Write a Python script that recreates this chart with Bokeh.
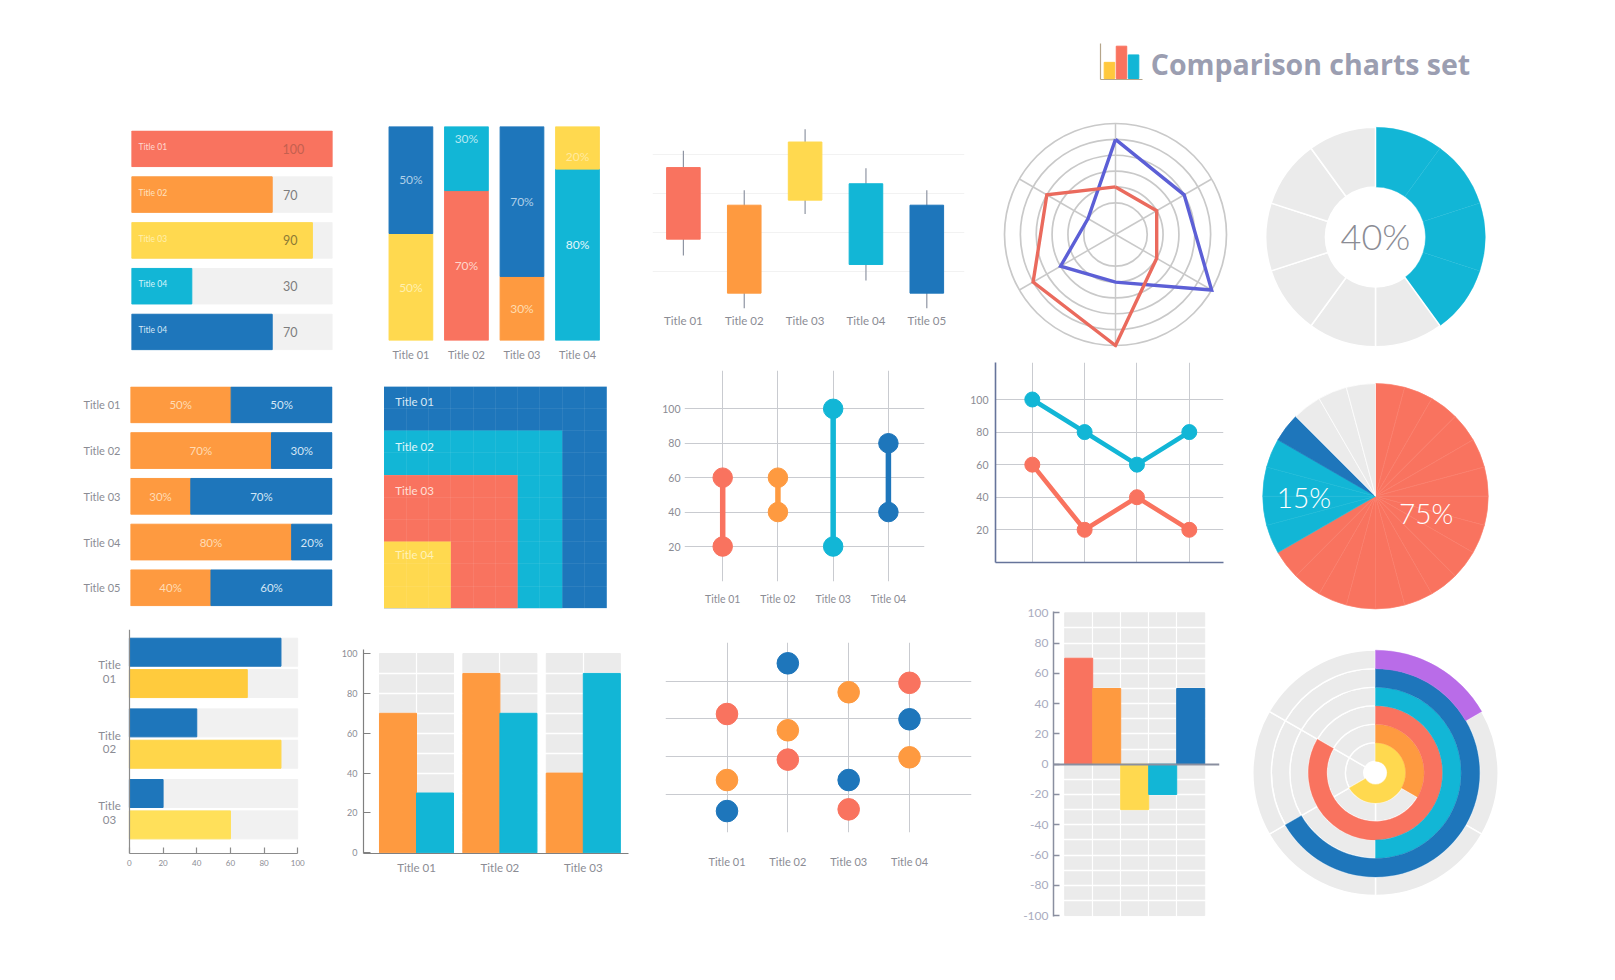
import math
from bokeh.plotting import figure
from bokeh.core.properties import value
from bokeh.models import Range1d, FixedTicker, ColumnDataSource
from bokeh.embed import file_html
from bokeh.resources import INLINE

# ---------- data ----------
titles4 = ["Title 01", "Title 02", "Title 03", "Title 04"]
titles5 = ["Title 01", "Title 02", "Title 03", "Title 04", "Title 05"]
hbar_labels = ["Title 01", "Title 02", "Title 03", "Title 04", "Title 04"]
hbar_values = [100, 70, 90, 30, 70]

stack_bottom = [50, 70, 30, 80]
stack_top = [50, 30, 70, 20]

candle_high = [81.9, 61.7, 93.0, 73.0, 61.7]
candle_top = [73.3, 54.0, 86.4, 65.0, 54.0]
candle_bottom = [36.6, 8.9, 56.6, 23.6, 8.9]
candle_low = [28.2, 1.2, 49.5, 15.4, 1.2]

radar_blue = [6, 5, 7, 3, 4, 2]
radar_red = [3, 3, 3, 7, 6, 5]

donut_segments = 10
donut_filled = 4
donut_label = "40%"

split_orange = [50, 70, 30, 80, 40]
split_blue = [50, 30, 70, 20, 60]

nested_values = [100, 80, 60, 30]

range_low = [20, 40, 20, 40]
range_high = [60, 60, 100, 80]

line_cyan = [100, 80, 60, 80]
line_coral = [60, 20, 40, 20]

pie_slices = [16, 4, 1, 3]     # count of 15-degree sectors
pie_labels = ["75%", "15%"]

pair_blue = [90, 40, 20]
pair_yellow = [70, 90, 60]
pair_labels = ["Title\n01", "Title\n02", "Title\n03"]

group_orange = [70, 90, 40]
group_cyan = [30, 70, 90]
titles3 = ["Title 01", "Title 02", "Title 03"]

dots_coral = [62.6, 38.5, 12.2, 79.1]
dots_orange = [27.7, 54.0, 74.1, 39.7]
dots_blue = [11.3, 89.4, 27.7, 59.8]

signed_values = [70, 50, -30, -20, 50]

ring_degrees = [240, 120, 300, 180, 240, 60]

icon_values = [50, 100, 73]
heading = "Comparison charts set"

# ---------- style ----------
CORAL = "#f9735f"
ORANGE = "#fe9a40"
YELLOW = "#ffd94f"
CYAN = "#12b6d6"
BLUE = "#1e76bb"
PURPLE = "#b96ce8"
GREY = "#ebebeb"
PALE = "#f1f1f1"
TXT = "#8b8c94"
FONT = "Lato"
LIGHT = "Lato Light"
figs = []


def cal(f0, f1, va, pa, vb, pb):
    k = (vb - va) / (pb - pa)
    return Range1d(va + (f0 - pa) * k, va + (f1 - pa) * k)


def panel(x0, y0, x1, y1, xc, yc, ml=2, mr=2, mt=2, mb=2):
    p = figure(width=x1 - x0 + ml + mr, height=y1 - y0 + mt + mb,
               x_range=cal(x0, x1, *xc), y_range=cal(y1, y0, *yc),
               toolbar_location=None, output_backend="svg",
               min_border_left=ml, min_border_right=mr, min_border_top=mt, min_border_bottom=mb,
               background_fill_color=None, border_fill_color=None, outline_line_color=None,
               styles={"position": "absolute", "left": f"{x0 - ml}px", "top": f"{y0 - mt - 1}px"})
    p.grid.visible = False
    p.axis.visible = False
    figs.append(p)
    return p


def ax(a, ticks, labels, size="11.5px", color=TXT, standoff=6, line=None, lw=1.2, tick_in=0):
    a.visible = True
    a.ticker = FixedTicker(ticks=list(ticks))
    a.major_label_overrides = {t: l for t, l in zip(ticks, labels)}
    a.major_label_text_font = FONT
    a.major_label_text_font_size = size
    a.major_label_text_color = color
    a.major_label_standoff = standoff
    a.axis_line_color = line
    a.axis_line_width = lw
    a.major_tick_line_color = line if tick_in else None
    a.major_tick_line_width = lw
    a.major_tick_in = tick_in
    a.major_tick_out = 0
    a.minor_tick_line_color = None


def txt(p, x, y, s, color="#ffffff", size="12px", align="center", font=FONT, lh=1.2):
    p.text(x=x, y=y, text=s, text_color=color, text_font=value(font), text_font_size=value(size),
           text_align=align, text_baseline="middle", text_line_height=lh)


# 1. simple horizontal bars
ys = list(range(1, 6))
p = panel(131, 131, 332, 351, (0, 131, 100, 332), (1, 149.3, 5, 332.5))
p.hbar(y=ys, left=0, right=[100] * 5, height=0.775, color=PALE)
p.hbar(y=ys, left=0, right=hbar_values, height=0.775,
       color=[CORAL, ORANGE, YELLOW, CYAN, BLUE])
txt(p, [3.5] * 5, [y - 0.04 for y in ys], hbar_labels,
    ["#ffd8d2", "#ffe2c0", "#fff0b0", "#d8f4fa", "#d6e8f6"], "8.5px", "left")
txt(p, [80.5, 79, 79, 79, 79], ys, [str(v) for v in hbar_values],
    ["#c4604f", "#7d7d7d", "#8c7a35", "#7d7d7d", "#7d7d7d"], "12.5px")

# 2. stacked columns
xs = list(range(1, 5))
p = panel(383, 127, 605, 341, (1, 410.4, 4, 577), (0, 341.3, 100, 126.7), mb=30)
p.vbar(x=xs, bottom=0, top=stack_bottom, width=0.787, color=[YELLOW, CORAL, ORANGE, CYAN])
p.vbar(x=xs, bottom=stack_bottom, top=[100] * 4, width=0.787, color=[BLUE, CYAN, BLUE, YELLOW])
txt(p, xs, [25, 35, 15, 45], [f"{v}%" for v in stack_bottom], ["#fff0b0", "#ffd6cc", "#ffdcb0", "#e2f7fb"], "12px")
txt(p, xs, [75, 94.3, 65, 85.8], [f"{v}%" for v in stack_top], ["#b0d0e8", "#b5e8f3", "#b0d0e8", "#ffeaa0"], "12px")
ax(p.xaxis[0], xs, titles4, size="11px", standoff=7)

# 3. candlesticks
xs5 = list(range(1, 6))
p = panel(652, 125, 964, 311, (1, 682.9, 5, 926.3), (20, 272, 80, 155), mb=22)
p.hspan(y=[20, 40, 60, 80], line_color="#f2f2f2", line_width=1.2)
p.segment(x0=xs5, x1=xs5, y0=candle_low, y1=candle_high, line_color="#8f95a3", line_width=1.2)
p.vbar(x=xs5, bottom=candle_bottom, top=candle_top, width=0.552,
       color=[CORAL, ORANGE, YELLOW, CYAN, BLUE])
ax(p.xaxis[0], xs5, titles5, size="11.5px", standoff=3)

# 4. radar
R = 111 / 7
p = panel(1002, 122, 1228, 348, (0, 1115, 1, 1115 + R), (0, 235, 1, 235 - R))
spokes = [90 - 60 * i for i in range(6)]
p.circle(x=[0] * 6, y=[0] * 6, radius=[2, 3, 4, 5, 6, 7], fill_color=None,
         line_color="#c9c9c9", line_width=1.7)
p.segment(x0=[0] * 6, y0=[0] * 6,
          x1=[7 * math.cos(math.radians(a)) for a in spokes],
          y1=[7 * math.sin(math.radians(a)) for a in spokes],
          line_color="#c9c9c9", line_width=1.5)
for vals, col in ((radar_blue, "#5c5fd6"), (radar_red, "#ea6a5d")):
    px = [v * math.cos(math.radians(a)) for v, a in zip(vals, spokes)]
    py = [v * math.sin(math.radians(a)) for v, a in zip(vals, spokes)]
    p.line(x=px + px[:1], y=py + py[:1], line_color=col, line_width=3.4, line_join="miter")


def sweep(start, span):
    return math.pi / 2 - math.radians(start), math.pi / 2 - math.radians(start + span)


# 5. donut
p = panel(1263, 125, 1487, 349, (0, 1375, 1, 1484.7), (0, 237.5, 1, 127.8))
step = 360 / donut_segments
st = [sweep(i * step, step) for i in range(donut_segments)]
fill = [i < donut_filled for i in range(donut_segments)]
src = ColumnDataSource(dict(a=[s[0] for s in st], b=[s[1] for s in st],
                            c=[CYAN if f else GREY for f in fill],
                            lc=["#1fbbd9" if f else "#ffffff" for f in fill],
                            lw=[0.4 if f else 1.5 for f in fill]))
p.annular_wedge(x=0, y=0, inner_radius=0.456, outer_radius=1, start_angle="a", end_angle="b",
                direction="clock", fill_color="c", line_color="lc", line_width="lw", source=src)
txt(p, [0], [0.01], [donut_label], TXT, "36px", font=LIGHT)

# 6. pie
p = panel(1260, 382, 1490, 612, (0, 1375, 1, 1487.7), (0, 496.7, 1, 384))
pie_colors = [c for c, n in zip([CORAL, CYAN, BLUE, GREY], pie_slices) for _ in range(n)]
pie_lines = [c for c, n in zip(["#fa7e6b", "#1fbbd9", BLUE, "#ffffff"], pie_slices) for _ in range(n)]
st = [sweep(i * 15, 15) for i in range(len(pie_colors))]
p.wedge(x=0, y=0, radius=1, start_angle=[s[0] for s in st], end_angle=[s[1] for s in st],
        direction="clock", fill_color=pie_colors, line_color=pie_lines, line_width=0.7)
txt(p, [0.45, -0.635], [-0.145, -0.005], pie_labels, "#ffffff", "28px", font=LIGHT)

# 7. radial bars
p = panel(1250, 648, 1500, 898, (0, 1375, 1, 1375 + 18.5), (0, 773.3, 1, 773.3 - 18.5))
for i in range(6):
    st = [sweep(k * 60, 60) for k in range(6)]
    p.annular_wedge(x=0, y=0, inner_radius=i + 0.63, outer_radius=i + 1.63,
                    start_angle=[s[0] for s in st], end_angle=[s[1] for s in st],
                    direction="clock", fill_color=GREY, line_color="#ffffff", line_width=1.4)
for i, (deg, col) in enumerate(zip(ring_degrees, [YELLOW, ORANGE, CORAL, CYAN, BLUE, PURPLE])):
    a, b = sweep(0, deg)
    p.annular_wedge(x=0, y=0, inner_radius=i + 0.63, outer_radius=i + 1.63, start_angle=a, end_angle=b,
                    direction="clock", fill_color=col, line_color=col, line_width=0.4)

# 8. split horizontal bars
p = panel(130, 387, 332, 607, (0, 129.8, 100, 331.5), (1, 405.3, 5, 588.3), ml=70)
p.hbar(y=ys, left=0, right=split_orange, height=0.78, color=ORANGE)
p.hbar(y=ys, left=split_orange, right=[100] * 5, height=0.78, color=BLUE)
txt(p, [v / 2 for v in split_orange], ys, [f"{v}%" for v in split_orange], "#ffdcb4", "11.5px")
txt(p, [o + v / 2 for o, v in zip(split_orange, split_blue)], ys,
    [f"{v}%" for v in split_blue], "#d4e6f5", "11.5px")
ax(p.yaxis[0], ys, titles5, size="11px", standoff=10)

# 9. nested squares
p = panel(383, 387, 607, 609, (0, 383.5, 100, 606.3), (0, 608.7, 100, 386.7))
p.quad(left=0, bottom=0, right=nested_values, top=nested_values,
       fill_color=[BLUE, CYAN, CORAL, YELLOW], line_color=None)
p.vspan(x=list(range(10, 100, 10)), line_color="#ffffff", line_alpha=0.07)
p.hspan(y=list(range(10, 100, 10)), line_color="#ffffff", line_alpha=0.07)
txt(p, [5] * 4, [93, 73, 53, 24], ["Title 01", "Title 02", "Title 03", "Title 04"],
    ["#d9e9f5", "#e0f6fa", "#ffe0da", "#fff2b8"], "11.5px", "left")

# 10. range dumbbells
p = panel(684, 371, 924, 582, (1, 722.2, 4, 887.9), (100, 409.3, 20, 547), ml=40, mb=26)
p.vspan(x=xs, line_color="#c9cbd0", line_width=1)
p.hspan(y=[20, 40, 60, 80, 100], line_color="#c9cbd0", line_width=1)
dcol = [CORAL, ORANGE, CYAN, BLUE]
p.segment(x0=xs, x1=xs, y0=range_low, y1=range_high, line_color=dcol, line_width=5.5)
p.scatter(x=xs, y=range_low, size=19.5, color=dcol)
p.scatter(x=xs, y=range_high, size=19.5, color=dcol)
ax(p.xaxis[0], xs, titles4, size="10.5px", standoff=11)
ax(p.yaxis[0], [20, 40, 60, 80, 100], ["20", "40", "60", "80", "100"], size="10.5px", standoff=4)

# 11. lines
p = panel(995, 363, 1223, 563, (1, 1031.8, 4, 1188.8), (100, 400, 20, 530.3), ml=34)
p.vspan(x=xs, line_color="#c9cbd0", line_width=1)
p.hspan(y=[20, 40, 60, 80, 100], line_color="#c9cbd0", line_width=1)
for vals, col in ((line_cyan, CYAN), (line_coral, CORAL)):
    p.line(x=xs, y=vals, line_color=col, line_width=4.6)
    p.scatter(x=xs, y=vals, size=15, color=col)
ax(p.yaxis[0], [20, 40, 60, 80, 100], ["20", "40", "60", "80", "100"], size="10.5px",
   standoff=7, line="#66749a", lw=1.6)
ax(p.xaxis[0], [], [], line="#66749a", lw=1.6)

# 12. paired horizontal bars
p = panel(90, 630, 298, 854, (0, 128.9, 100, 297.3), (1, 668.4, 3, 809.7), mb=20, mr=8)
g = [1, 2, 3]
gb = [y - 0.222 for y in g]
gy = [y + 0.222 for y in g]
p.hbar(y=gb + gy, left=0, right=[100] * 6, height=0.396, color=PALE)
p.hbar(y=gb, left=0, right=pair_blue, height=0.396, color=BLUE)
p.hbar(y=gy, left=0, right=pair_yellow, height=0.396, color=["#ffcb3d", "#ffd64a", "#ffe05a"])
txt(p, [-11.8] * 3, [y + 0.05 for y in g], pair_labels, TXT, "11.5px", lh=1.05)
ax(p.yaxis[0], [], [], line="#8c8c8c", lw=1.2)
p.yaxis[0].fixed_location = 0
ax(p.xaxis[0], [0, 20, 40, 60, 80, 100], ["0", "20", "40", "60", "80", "100"], size="8px",
   standoff=6, line="#8c8c8c", lw=1.2, tick_in=6)
p.xaxis[0].bounds = (0, 100)

# 13. grouped columns
p = panel(363, 650, 628, 854, (1, 416, 3, 582.8), (0, 853.3, 100, 654), ml=34, mb=26, mt=8)
dw = 0.222
p.vbar(x=g, bottom=0, top=[100] * 3, width=0.888, color=GREY)
p.hspan(y=list(range(10, 100, 10)), line_color="#ffffff", line_width=1.4)
p.vspan(x=g, line_color="#ffffff", line_width=1.2)
p.vbar(x=[v - dw for v in g], bottom=0, top=group_orange, width=0.444, color=ORANGE)
p.vbar(x=[v + dw for v in g], bottom=0, top=group_cyan, width=0.444, color=CYAN)
ax(p.xaxis[0], g, titles3, size="11.5px", standoff=7, line="#808080", lw=1.2)
ax(p.yaxis[0], [0, 20, 40, 60, 80, 100], ["0", "20", "40", "60", "80", "100"], size="9px",
   standoff=6, line="#808080", lw=1.2, tick_in=7)

# 14. dots
p = panel(665, 643, 971, 835, (1, 726.5, 4, 909), (20, 796.7, 80, 682), mb=36)
p.vspan(x=xs, line_color="#c9cbd0", line_width=1)
p.hspan(y=[20, 40, 60, 80], line_color="#c9cbd0", line_width=1)
for vals, col in ((dots_coral, CORAL), (dots_orange, ORANGE), (dots_blue, BLUE)):
    p.scatter(x=xs, y=vals, size=21.6, color=col)
ax(p.xaxis[0], xs, titles4, size="11px", standoff=22)

# 15. signed columns
p = panel(1053, 612, 1219, 917, (1, 1078.2, 5, 1190.2), (0, 764.7, 100, 613.3), ml=36, mt=10, mb=10)
p.vbar(x=xs5, bottom=-100, top=100, width=1, color=GREY)
p.hspan(y=[v for v in range(-90, 100, 10)], line_color="#ffffff", line_width=1.4)
p.vspan(x=[1.5, 2.5, 3.5, 4.5], line_color="#ffffff", line_width=1.2)
p.vbar(x=xs5, bottom=0, top=signed_values, width=1, color=[CORAL, ORANGE, YELLOW, CYAN, BLUE])
p.hspan(y=[0], line_color="#8a8fa0", line_width=1.8)
yt = list(range(-100, 101, 20))
ax(p.yaxis[0], yt, [str(v) for v in yt], size="12px", color="#a9acbe", standoff=5,
   line="#8a8fa0", lw=1.5, tick_in=6)

# heading
p = panel(1100, 44, 1142, 80, (0.5, 1102.9, 3.5, 1139.1), (0, 79, 100, 46.7))
p.vbar(x=[1, 2, 3], bottom=0, top=icon_values, width=0.87, color=["#ffc83d", CORAL, CYAN])
ax(p.xaxis[0], [], [], line="#b5a58a", lw=1.2)
ax(p.yaxis[0], [], [], line="#b5a58a", lw=1.2)
p = panel(1146, 36, 1500, 92, (0, 1146, 1, 1500), (0, 92, 1, 36))
p.text(x=[0.012], y=[0.5], text=[heading], text_color="#9b9eb1", text_font=value("Open Sans"),
       text_font_style="bold", text_font_size=value("28.5px"), text_align="left", text_baseline="middle")

open("out.html", "w").write(file_html(figs, INLINE))
